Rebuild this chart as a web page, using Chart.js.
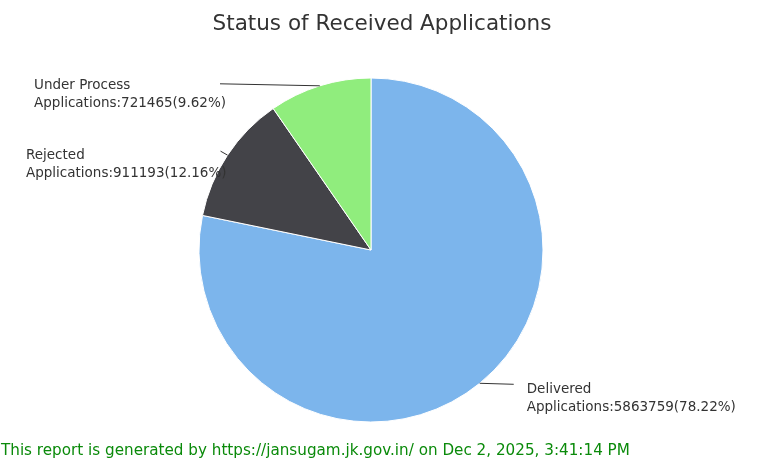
<!DOCTYPE html>
<html>
<head>
<meta charset="utf-8">
<script src="https://cdn.jsdelivr.net/npm/chart.js@4/dist/chart.umd.min.js"></script>
<style>
  html, body { margin: 0; padding: 0; background: #ffffff; }
  #wrap { position: relative; width: 768px; height: 461px; }
</style>
</head>
<body>
<div id="wrap"><canvas id="c" width="768" height="461"></canvas></div>
<script>
const titleText = "Status of Received Applications";
const footerText = "This report is generated by https://jansugam.jk.gov.in/ on Dec 2, 2025, 3:41:14 PM";
const categories = ["Delivered Applications", "Rejected Applications", "Under Process Applications"];
const labelFirstLines = ["Delivered", "Rejected", "Under Process"];
const values = [5863759, 911193, 721465];
const percents = ["78.22%", "12.16%", "9.62%"];
const colors = ["#7cb5ec", "#434348", "#90ed7d"];

const FONT = '"DejaVu Sans", "Noto Sans", sans-serif';

const labelPlugin = {
  id: 'hcLabels',
  afterDraw(chart) {
    const ctx = chart.ctx;
    const meta = chart.getDatasetMeta(0);
    ctx.save();
    // title
    ctx.fillStyle = '#333333';
    ctx.font = '21.5px ' + FONT;
    ctx.textAlign = 'center';
    ctx.textBaseline = 'alphabetic';
    ctx.fillText(titleText, 382, 30);

    // data labels
    ctx.font = '13.5px ' + FONT;
    meta.data.forEach((arc, i) => {
      const mid = (arc.startAngle + arc.endAngle) / 2;
      const r = arc.outerRadius;
      const sx = arc.x + Math.cos(mid) * r;
      const sy = arc.y + Math.sin(mid) * r;
      const right = Math.cos(mid) > 0;
      let ax, ay, dy;
      if (right) { ax = sx + 34; ay = sy + 1; dy = 9; }
      else if (i === 2) { ax = 220; ay = sy - 2; dy = 5; }
      else { ax = sx - 7; ay = sy - 4; dy = 8; }
      ctx.strokeStyle = '#333333';
      ctx.lineWidth = 1;
      ctx.beginPath();
      ctx.moveTo(sx, sy);
      ctx.lineTo(ax, ay);
      ctx.stroke();
      const l1 = labelFirstLines[i];
      const l2 = 'Applications:' + values[i] + '(' + percents[i] + ')';
      ctx.fillStyle = '#333333';
      ctx.textBaseline = 'alphabetic';
      ctx.textAlign = 'left';
      if (right) {
        ctx.fillText(l1, ax + 13, ay + dy);
        ctx.fillText(l2, ax + 13, ay + dy + 18);
      } else {
        const w = Math.max(ctx.measureText(l1).width, ctx.measureText(l2).width);
        const left = ax + 6 - w;
        ctx.fillText(l1, left, ay + dy);
        ctx.fillText(l2, left, ay + dy + 18);
      }
    });

    // footer
    ctx.fillStyle = '#0a8a0a';
    ctx.font = '15.2px ' + FONT;
    ctx.textAlign = 'left';
    ctx.textBaseline = 'middle';
    ctx.fillText(footerText, 1, 451);
    ctx.restore();
  }
};

new Chart(document.getElementById('c'), {
  type: 'pie',
  data: {
    labels: categories,
    datasets: [{
      data: values,
      backgroundColor: colors,
      borderColor: '#ffffff',
      borderWidth: 1,
      hoverOffset: 0
    }]
  },
  options: {
    responsive: false,
    animation: false,
    radius: 172,
    layout: { padding: { top: 78, bottom: 39, left: 199, right: 225 } },
    plugins: {
      legend: { display: false },
      tooltip: { enabled: false },
      title: { display: false }
    }
  },
  plugins: [labelPlugin]
});
</script>
</body>
</html>
